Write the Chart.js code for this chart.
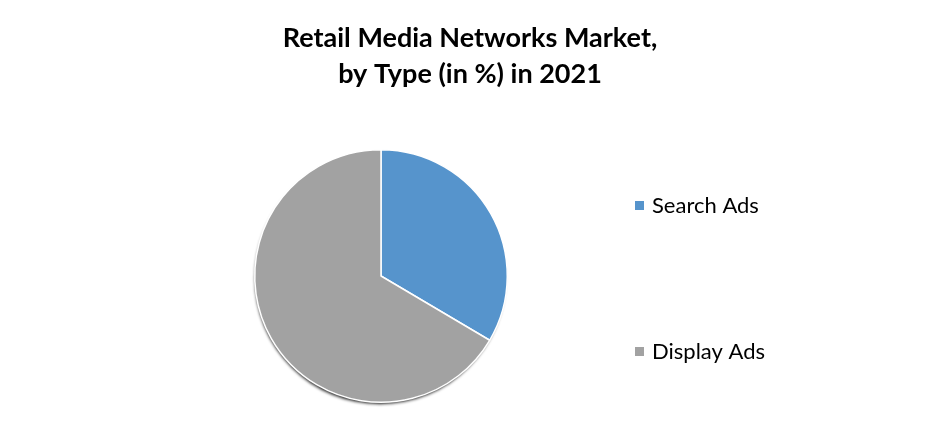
<!DOCTYPE html>
<html lang="en">
<head>
    <meta charset="UTF-8">
    <title>Retail Media Networks Market</title>
    <style>
        body {
            margin: 0;
            background: #ffffff;
        }
    </style>
    <script src="https://cdn.jsdelivr.net/npm/chart.js"></script>
</head>
<body>
    <canvas id="marketChart" width="940" height="447"></canvas>

    <script>
        // data
        const types = ['Search Ads', 'Display Ads'];
        const shares = [33.5, 66.5];
        const sliceColors = ['#5694CC', '#A2A2A2'];
        const titleLines = ['Retail Media Networks Market,', 'by Type (in %) in 2021'];

        const fontFamily = "Lato, 'Liberation Sans', Arial, sans-serif";

        // drop shadow behind the whole pie (drawn once, slices go on top)
        const pieShadow = {
            id: 'pieShadow',
            beforeDatasetsDraw(chart) {
                const arc = chart.getDatasetMeta(0).data[0];
                if (!arc) return;
                const ctx = chart.ctx;
                ctx.save();
                ctx.shadowColor = 'rgba(0, 0, 0, 0.8)';
                ctx.shadowBlur = 3;
                ctx.shadowOffsetX = -1;
                ctx.shadowOffsetY = 3;
                ctx.fillStyle = sliceColors[1];
                ctx.beginPath();
                ctx.arc(arc.x, arc.y, arc.outerRadius - 1, 0, Math.PI * 2);
                ctx.fill();
                ctx.restore();
            }
        };

        // title across the whole canvas + legend on the right
        const titleAndLegend = {
            id: 'titleAndLegend',
            afterDraw(chart) {
                const ctx = chart.ctx;
                const area = chart.chartArea;
                ctx.save();

                ctx.fillStyle = '#000000';
                ctx.font = 'bold 27px ' + fontFamily;
                ctx.textAlign = 'center';
                ctx.textBaseline = 'alphabetic';
                titleLines.forEach(function (line, i) {
                    ctx.fillText(line, chart.width / 2, 47 + i * 36);
                });

                const cy = (area.top + area.bottom) / 2;
                const rows = [cy - 71, cy + 75];
                const x = 635;
                ctx.font = '22px ' + fontFamily;
                ctx.textAlign = 'left';
                ctx.textBaseline = 'middle';
                chart.data.labels.forEach(function (label, i) {
                    ctx.fillStyle = chart.data.datasets[0].backgroundColor[i];
                    ctx.fillRect(x, rows[i] - 4, 9, 9);
                    ctx.fillStyle = '#000000';
                    ctx.fillText(label, x + 17, rows[i] + 1);
                });
                ctx.restore();
            }
        };

        const ctx = document.getElementById('marketChart').getContext('2d');

        new Chart(ctx, {
            type: 'pie',
            data: {
                labels: types,
                datasets: [{
                    data: shares,
                    backgroundColor: sliceColors,
                    borderColor: '#ffffff',
                    borderWidth: 1.5
                }]
            },
            options: {
                responsive: false,
                animation: false,
                layout: {
                    padding: { top: 149, left: 0, right: 178, bottom: 44 }
                },
                plugins: {
                    title: { display: false },
                    legend: { display: false },
                    tooltip: { enabled: false }
                }
            },
            plugins: [pieShadow, titleAndLegend]
        });
    </script>
</body>
</html>
